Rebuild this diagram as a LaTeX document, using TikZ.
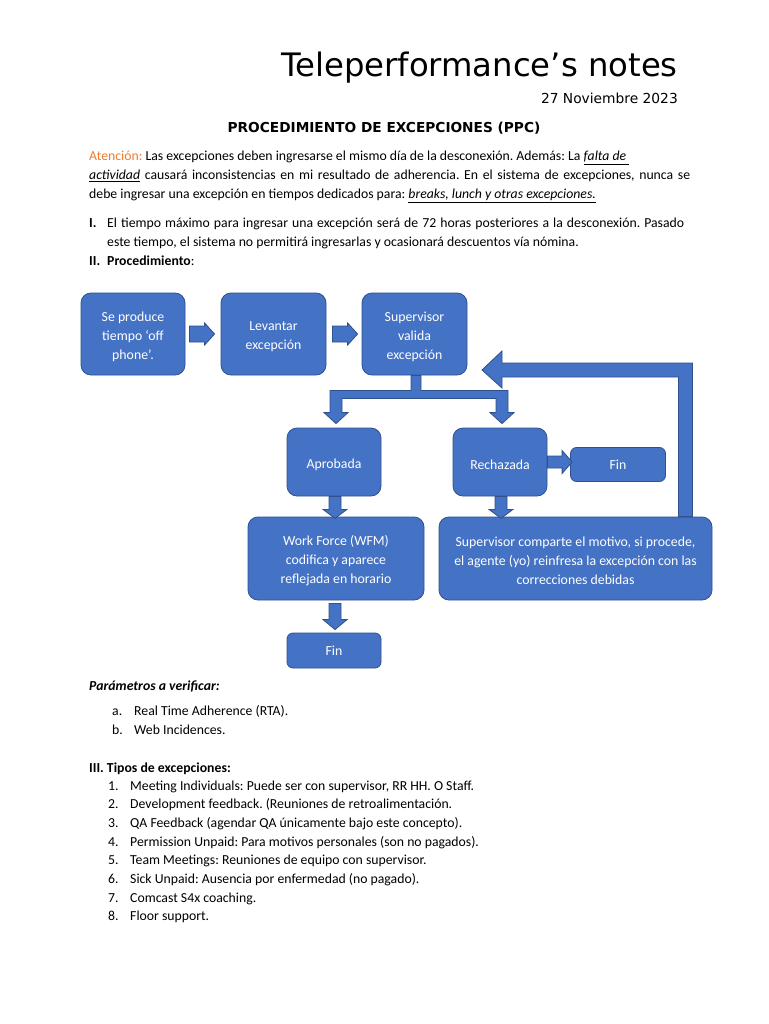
\documentclass[tikz,border=0pt]{standalone}
\usepackage{fontspec}
\setmainfont{Carlito}
\newfontfamily\djv{DejaVu Sans}
\usetikzlibrary{calc}
\definecolor{boxblue}{HTML}{4472C4}
\definecolor{boxedge}{HTML}{2F528F}
\definecolor{atorange}{HTML}{ED7D31}
\tikzset{
  box/.style={draw=boxedge, fill=boxblue, line width=0.8pt, rounded corners=10pt, text=white, align=center, font=\fontsize{13.8}{19}\selectfont, inner sep=0pt},
  blk/.style={draw=boxedge, fill=boxblue, line width=0.8pt},
  txt/.style={anchor=base west, inner sep=0pt, font=\fontsize{13.75}{19}\selectfont},
}
\frenchspacing
\newcommand\bs{\rule{0pt}{15pt}}
\newcommand\rblk[5]{\draw[blk] let \p1=(#1), \p2=(#2) in (\x1,\y1+#3) -- (\x2-#5,\y1+#3) -- (\x2-#5,\y1+#4) -- (\x2,\y1) -- (\x2-#5,\y1-#4) -- (\x2-#5,\y1-#3) -- (\x1,\y1-#3) -- cycle;}
\newcommand\dblk[5]{\draw[blk] let \p1=(#1), \p2=(#2) in (\x1-#3,\y1) -- (\x1-#3,\y2+#5) -- (\x1-#4,\y2+#5) -- (\x1,\y2) -- (\x1+#4,\y2+#5) -- (\x1+#3,\y2+#5) -- (\x1+#3,\y1) -- cycle;}
\begin{document}
\frenchspacing
\begin{tikzpicture}[x=1pt,y=-1pt]
\useasboundingbox[fill=white] (0,0) rectangle (768,1024);

% header
\node[anchor=base east, inner sep=0pt, font=\djv\fontsize{32.3}{36}\selectfont] (title) at (678,77) {Teleperformance’s notes};
\node[anchor=base east, inner sep=0pt, font=\djv\fontsize{13.8}{16}\selectfont] (date) at (678,104) {27 Noviembre 2023};
\node[anchor=base, inner sep=0pt, font=\djv\bfseries\fontsize{13.7}{16}\selectfont] (head) at (384,133) {PROCEDIMIENTO DE EXCEPCIONES (PPC)};

% paragraph
\node[txt] (p1) at (89,161) {{\color{atorange}Atención:} Las excepciones deben ingresarse el mismo día de la desconexión. Además: La \underline{\textit{falta de }}};
\node[txt] (p2) at (89,180) {\makebox[601pt][s]{\underline{\textit{actividad}} causará inconsistencias en mi resultado de adherencia. En el sistema de excepciones, nunca se}};
\node[txt] (p3) at (89,199) {debe ingresar una excepción en tiempos dedicados para: \underline{\textit{breaks, lunch y otras excepciones.}}};

\node[txt] (i1n) at (89,227) {\textbf{I.}};
\node[txt] (i1a) at (107,227) {\makebox[577pt][s]{El tiempo máximo para ingresar una excepción será de 72 horas posteriores a la desconexión. Pasado}};
\node[txt] (i1b) at (107,246) {este tiempo, el sistema no permitirá ingresarlas y ocasionará descuentos vía nómina.};
\node[txt] (i2n) at (89,265) {\textbf{II.}};
\node[txt] (i2a) at (107,265) {\textbf{Procedimiento}:};

% flowchart boxes
\node[box, minimum width=104pt, minimum height=82pt] (b1) at (133,334) {\bs Se produce\\tiempo ‘off\\phone’.};
\node[box, minimum width=105pt, minimum height=82pt] (b2) at (273.5,334) {\bs Levantar\\excepción};
\node[box, minimum width=105pt, minimum height=82pt] (sv) at (414.5,334) {\bs Supervisor\\valida\\excepción};
\node[box, minimum width=94pt, minimum height=68pt] (ap) at (334,462) {\bs Aprobada};
\node[box, minimum width=94pt, minimum height=68pt] (re) at (500,462) {\bs Rechazada};
\node[box, rounded corners=6pt, minimum width=95pt, minimum height=34pt] (finr) at (618,464.5) {Fin};
\node[box, minimum width=176pt, minimum height=83pt] (wfm) at (336,558.5) {\bs Work Force (WFM)\\codifica y aparece\\reflejada en horario};
\node[box, minimum width=273pt, minimum height=83pt] (sup) at (575.5,558.5) {\bs Supervisor comparte el motivo, si procede,\\el agente (yo) reinfresa la excepción con las\\correcciones debidas};
\node[box, rounded corners=6pt, minimum width=94pt, minimum height=35pt] (finb) at (334,650.5) {Fin};

% block arrows
\rblk{$(b1.east)+(4,0)$}{$(b2.west)+(-6,0)$}{8pt}{11pt}{10pt}
\rblk{$(b2.east)+(6,0)$}{$(sv.west)+(-4,0)$}{8pt}{11pt}{10pt}
\rblk{re.east}{$(finr.west |- re.east)+(2,0)$}{6pt}{11.5pt}{10pt}
\dblk{$(ap.south)+(1,0)$}{$(ap.south -| wfm.north)+(-1,22)$}{6pt}{12pt}{9pt}
\dblk{$(re.south)+(1,0)$}{$(re.south)+(1,22)$}{6pt}{12pt}{9pt}
\dblk{$(wfm.south)+(-1,3)$}{$(finb.north)+(1,-3)$}{6pt}{12pt}{10pt}

% fork from supervisor box
\draw[blk] let \p1=(sv.south), \p2=(ap.north), \p3=(re.north) in
  (\x1-3.5pt,\y1) -- (\x1-3.5pt,\y1-15pt) -- (\x2-4pt,\y1-15pt) -- (\x2-4pt,\y2+15pt) -- (\x2-10pt,\y2+15pt) -- (\x2+2pt,\y2+4pt) -- (\x2+14pt,\y2+15pt) -- (\x2+8pt,\y2+15pt) -- (\x2+8pt,\y1-23pt) -- (\x3-4pt,\y1-23pt) -- (\x3-4pt,\y3+15pt) -- (\x3-10pt,\y3+15pt) -- (\x3+2pt,\y3+4pt) -- (\x3+14pt,\y3+15pt) -- (\x3+8pt,\y3+15pt) -- (\x3+8pt,\y1-15pt) -- (\x1+6.5pt,\y1-15pt) -- (\x1+6.5pt,\y1) -- cycle;

% feedback arrow
\coordinate (fbtip) at (482,370);
\draw[blk] let \p1=(sup.north east), \p2=(fbtip) in
  (\x1-34pt,\y1) -- (\x1-34pt,\y2-7pt) -- (\x2+20pt,\y2-7pt) -- (\x2+20pt,\y2-18pt) -- (\x2,\y2) -- (\x2+20pt,\y2+19pt) -- (\x2+20pt,\y2+7pt) -- (\x1-20pt,\y2+7pt) -- (\x1-20pt,\y1) -- cycle;

% parameters
\node[txt] (par) at (89,690) {\textbf{\textit{Parámetros a verificar:}}};
\node[txt] (pan) at (112,715) {a.};
\node[txt] (pat) at (134,715) {Real Time Adherence (RTA).};
\node[txt] (pbn) at (112,734) {b.};
\node[txt] (pbt) at (134,734) {Web Incidences.};

\node[txt] (i3) at (89,772) {\textbf{III. Tipos de excepciones:}};
\node[txt] (n1) at (108,790) {1.};
\node[txt] (t1) at (130,790) {Meeting Individuals: Puede ser con supervisor, RR HH. O Staff.};
\node[txt] (n2) at (108,808.7) {2.};
\node[txt] (t2) at (130,808.7) {Development feedback. (Reuniones de retroalimentación.};
\node[txt] (n3) at (108,827.4) {3.};
\node[txt] (t3) at (130,827.4) {QA Feedback (agendar QA únicamente bajo este concepto).};
\node[txt] (n4) at (108,846.1) {4.};
\node[txt] (t4) at (130,846.1) {Permission Unpaid: Para motivos personales (son no pagados).};
\node[txt] (n5) at (108,864.8) {5.};
\node[txt] (t5) at (130,864.8) {Team Meetings: Reuniones de equipo con supervisor.};
\node[txt] (n6) at (108,883.5) {6.};
\node[txt] (t6) at (130,883.5) {Sick Unpaid: Ausencia por enfermedad (no pagado).};
\node[txt] (n7) at (108,902.2) {7.};
\node[txt] (t7) at (130,902.2) {Comcast S4x coaching.};
\node[txt] (n8) at (108,920.9) {8.};
\node[txt] (t8) at (130,920.9) {Floor support.};
\end{tikzpicture}
\end{document}
